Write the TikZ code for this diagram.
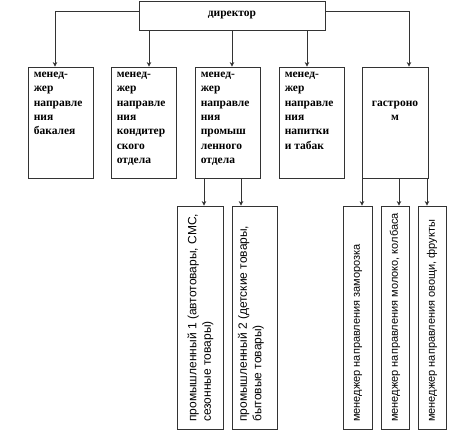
\documentclass[tikz,border=0pt]{standalone}
\usepackage{fontspec}
\setmainfont{Liberation Serif}
\newfontfamily\serifb{Liberation Serif}
\newfontfamily\arialf{Liberation Sans}
\usetikzlibrary{arrows.meta}
\tikzset{
  box/.style={draw=black!80, line width=0.8pt, fill=white, inner sep=0pt},
  toptext/.style={inner sep=0pt, align=left, font=\serifb\fontsize{11.5}{14.4}\selectfont\bfseries, anchor=north west},
  rottext/.style={inner sep=0pt, align=left, rotate=90, anchor=west, font=\arialf\fontsize{11}{14}\selectfont},
  rottextbig/.style={rottext, font=\arialf\fontsize{12}{14.5}\selectfont},
  conn/.style={draw=black!80, line width=0.8pt},
  arr/.style={conn, -{Stealth[length=4.5pt,width=4.5pt]}}
}
\begin{document}
\begin{tikzpicture}[x=1pt,y=-1pt]
\useasboundingbox (0,0) rectangle (474,439);
% director
\node[box, minimum width=186pt, minimum height=29pt, font=\serifb\fontsize{11.5}{14}\selectfont\bfseries] (dir) at (232,15.5) {директор};
% top row
\node[box, minimum width=65pt, minimum height=111pt] (m1) at (60.5,122.5) {};
\node[box, minimum width=65pt, minimum height=111pt] (m2) at (143.5,122.5) {};
\node[box, minimum width=65pt, minimum height=111pt] (m3) at (227.5,122.5) {};
\node[box, minimum width=65pt, minimum height=111pt] (m4) at (311.5,122.5) {};
\node[box, minimum width=66pt, minimum height=111pt] (m5) at (395,122.5) {};
\node[toptext] (t1) at ([xshift=6pt,yshift=-5pt]m1.north west) {менед-\\жер\\направле\\ния\\бакалея};
\node[toptext] (t2) at ([xshift=6pt,yshift=-5pt]m2.north west) {менед-\\жер\\направле\\ния\\кондитер\\ского\\отдела};
\node[toptext] (t3) at ([xshift=6pt,yshift=-5pt]m3.north west) {менед-\\жер\\направле\\ния\\промыш\\ленного\\отдела};
\node[toptext] (t4) at ([xshift=6pt,yshift=-5pt]m4.north west) {менед-\\жер\\направле\\ния\\напитки\\и табак};
\node[toptext, align=center, anchor=north] (t5) at ([yshift=-34pt]m5.north) {гастроно\\м};
% bottom boxes
\node[box, minimum width=46pt, minimum height=223pt] (pa) at (200,317.5) {};
\node[box, minimum width=45pt, minimum height=223pt] (pb) at (254.5,317.5) {};
\node[box, minimum width=29pt, minimum height=223pt] (gc) at (357.5,317.5) {};
\node[box, minimum width=28pt, minimum height=223pt] (gd) at (395,317.5) {};
\node[box, minimum width=28pt, minimum height=223pt] (ge) at (432,317.5) {};
\node[rottextbig] (ta) at (200.5,422) {промышленный 1 (автотовары, СМС,\\сезонные товары)};
\node[rottextbig] (tb) at (251,422) {промышленный 2 (детские товары,\\бытовые товары)};
\node[rottext] (tc) at (358,422) {менеджер направления заморозка};
\node[rottext] (td) at (395,422) {менеджер направления молоко, колбаса};
\node[rottext] (te) at (432,422) {менеджер направления овощи, фрукты};
% coordinates for connectors
\coordinate (c1) at (55,11);
\coordinate (c5) at (409,11);
\coordinate (x2) at (149,0);
\coordinate (x3) at (232,0);
\coordinate (x4) at (307,0);
\coordinate (x6) at (204,0);
\coordinate (x7) at (241,0);
\coordinate (x8) at (362,0);
\coordinate (x9) at (399,0);
\coordinate (x10) at (427,0);
% connectors
\draw[arr] (dir.west |- c1) -- (c1) -- (c1 |- m1.north);
\draw[arr] (dir.east |- c5) -- (c5) -- (c5 |- m5.north);
\draw[arr] (x2 |- dir.south) -- (x2 |- m2.north);
\draw[arr] (x3 |- dir.south) -- (x3 |- m3.north);
\draw[arr] (x4 |- dir.south) -- (x4 |- m4.north);
\draw[arr] (x6 |- m3.south) -- (x6 |- pa.north);
\draw[arr] (x7 |- m3.south) -- (x7 |- pb.north);
\draw[arr] (x8 |- m5.south) -- (x8 |- gc.north);
\draw[arr] (x9 |- m5.south) -- (x9 |- gd.north);
\draw[arr] (x10 |- m5.south) -- (x10 |- ge.north);
\end{tikzpicture}
\end{document}
